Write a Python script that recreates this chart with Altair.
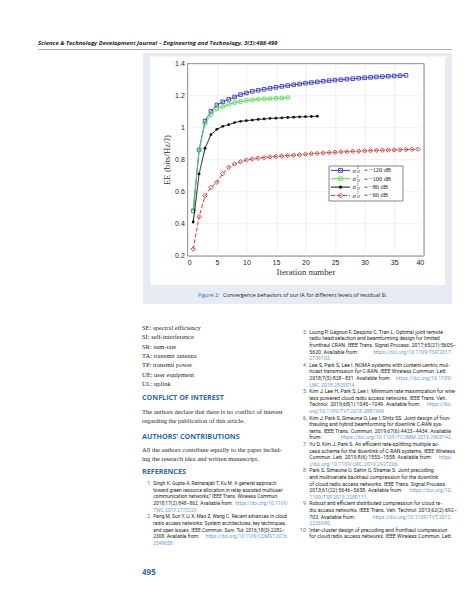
import altair as alt
import pandas as pd

# ---------------- chart values ----------------
iters_120 = list(range(1, 38))
ee_120 = [0.48, 0.86, 1.04, 1.10, 1.14, 1.16, 1.175, 1.19, 1.205, 1.215,
          1.225, 1.232, 1.238, 1.244, 1.25, 1.256, 1.261, 1.266, 1.271, 1.276,
          1.28, 1.284, 1.288, 1.292, 1.295, 1.298, 1.301, 1.304, 1.307, 1.31,
          1.312, 1.315, 1.317, 1.319, 1.321, 1.323, 1.325]
iters_100 = list(range(1, 18))
ee_100 = [0.48, 0.86, 1.025, 1.08, 1.115, 1.13, 1.145, 1.155, 1.162, 1.168,
          1.172, 1.175, 1.178, 1.18, 1.182, 1.184, 1.186]
iters_80 = list(range(1, 23))
ee_80 = [0.41, 0.71, 0.87, 0.955, 0.988, 1.007, 1.017, 1.03, 1.038, 1.042,
         1.046, 1.05, 1.053, 1.056, 1.058, 1.06, 1.062, 1.064, 1.066, 1.067,
         1.068, 1.07]
iters_60 = list(range(1, 40))
ee_60 = [0.241, 0.443, 0.574, 0.626, 0.658, 0.712, 0.751, 0.772, 0.786, 0.797,
         0.803, 0.808, 0.812, 0.816, 0.819, 0.822, 0.825, 0.827, 0.829, 0.833,
         0.836, 0.838, 0.841, 0.843, 0.845, 0.847, 0.849, 0.851, 0.852, 0.854,
         0.855, 0.857, 0.858, 0.859, 0.86, 0.861, 0.862, 0.863, 0.864]

x_ticks = [0, 5, 10, 15, 20, 25, 30, 35, 40]
y_ticks = [0.2, 0.4, 0.6, 0.8, 1.0, 1.2, 1.4]
x_title = "Iteration number"
y_title = "EE (bits/Hz/J)"

legend_values = ["= −120 dB", "= −100 dB", "= −80 dB", "= −60 dB"]
series_colors = ["#3a3ad0", "#3fe03f", "#111111", "#d93a3a"]
series_shapes = ["square", "circle", "circle", "diamond"]
series_filled = [False, False, True, False]
series_sizes = [13, 15, 8, 20]
series_dash = [[1, 0], [1, 0], [1, 0], [4, 2]]

# ---------------- page texts ----------------
header_text = "Science & Technology Development Journal – Engineering and Technology, 3(3):488-499"
caption_label = "Figure 2:"
caption_text = "Convergence behaviors of our IA for different levels of residual SI."
abbrev_lines = ["SE: spectral efficiency", "SI: self-interference", "SR: sum-rate",
                "TA: transmit antenna", "TP: transmit power", "UE: user equipment",
                "UL: uplink"]
heading_coi = "CONFLICT OF INTEREST"
coi_lines = ["The authors declare that there is no conflict of interest",
             "regarding the publication of this article."]
heading_ac = "AUTHORS’ CONTRIBUTIONS"
ac_lines = ["All the authors contribute equally to the paper includ-",
            "ing the research idea and written manuscript."]
heading_ref = "REFERENCES"
page_number = "495"

refs_left = [
    ("1.", [("Singh K, Gupta A, Ratnarajah T, Ku M.  A general approach", ""),
            ("toward green resource allocation in relay-assisted multiuser", ""),
            ("communication networks,” IEEE Trans. Wireless Commun.", ""),
            ("2018;17(2):848–862. Available from:", "https://doi.org/10.1109/"),
            ("", "TWC.2017.2772229.")]),
    ("2.", [("Peng M, Sun Y, Li X, Mao Z, Wang C. Recent advances in cloud", ""),
            ("radio access networks: System architectures, key techniques,", ""),
            ("and open issues. IEEE Commun. Surv. Tut. 2016;18(3):2282–", ""),
            ("2308. Available from:", "https://doi.org/10.1109/COMST.2016."),
            ("", "2548658.")]),
]
refs_right = [
    ("3.", [("Luong P, Gagnon F, Despins C, Tran L.  Optimal joint remote", ""),
            ("radio head selection and beamforming design for limited", ""),
            ("fronthaul CRAN. IEEE Trans. Signal Process. 2017;65(21):5605–", ""),
            ("5620.     Available from:", "https://doi.org/10.1109/TSP.2017."),
            ("", "2739103.")]),
    ("4.", [("Lee S, Park S, Lee I. NOMA systems with content-centric mul-", ""),
            ("ticast transmission for C-RAN. IEEE Wireless Commun. Lett.", ""),
            ("2018;7(5):828–831.  Available from:", "https://doi.org/10.1109/"),
            ("", "LWC.2018.2829514.")]),
    ("5.", [("Kim J, Lee H, Park S, Lee I. Minimum rate maximization for wire-", ""),
            ("less powered cloud radio access networks. IEEE Trans. Veh.", ""),
            ("Technol. 2019;68(1):1045–1049.  Available from:", "https://doi."),
            ("", "org/10.1109/TVT.2018.2881969.")]),
    ("6.", [("Kim J, Park S, Simeone O, Lee I, Shitz SS.  Joint design of fron-", ""),
            ("thauling and hybrid beamforming for downlink C-RAN sys-", ""),
            ("tems. IEEE Trans. Commun. 2019;67(6):4423–4434. Available", ""),
            ("from: ", "https://doi.org/10.1109/TCOMM.2019.2903142.")]),
    ("7.", [("Yu D, Kim J, Park S.  An efficient rate-splitting multiple ac-", ""),
            ("cess scheme for the downlink of C-RAN systems. IEEE Wireless", ""),
            ("Commun. Lett. 2019;8(6):1555–1558.  Available from:", "https:"),
            ("", "//doi.org/10.1109/LWC.2019.2927206.")]),
    ("8.", [("Park S, Simeone O, Sahin O, Shamai S.  Joint precoding", ""),
            ("and multivariate backhaul compression for the downlink", ""),
            ("of cloud radio access networks. IEEE Trans. Signal Process.", ""),
            ("2013;61(22):5646–5658.  Available from:", "https://doi.org/10."),
            ("", "1109/TSP.2013.2280111.")]),
    ("9.", [("Robust and efficient distributed compression for cloud ra-", ""),
            ("dio access networks. IEEE Trans. Veh. Technol. 2013;62(2):692–", ""),
            ("703.     Available from:", "https://doi.org/10.1109/TVT.2012."),
            ("", "2226945.")]),
    ("10.", [("Inter-cluster design of precoding and fronthaul compression", ""),
             ("for cloud radio access networks. IEEE Wireless Commun. Lett.", "")]),
]

# ---------------- layout constants ----------------
OX, OY = 187.3, 63.3          # page position of the plot area
W, H = 236.4, 192.4
PAGE_W, PAGE_H = 458, 596
BLUE = "#2b6cb3"
INK = "#231f20"
LINK = "#6b9bd1"
FRAME = "#e6ebf4"
REF_FONT = "Roboto"
BODY_FONT, BODY_SIZE = "Liberation Serif", 6.5


def rel(X, Y):
    return X - OX, Y - OY


def text_layer(rows, font, size, color, weight="normal", style="normal", align="left"):
    df = pd.DataFrame([{"px": rel(X, Y)[0], "py": rel(X, Y)[1], "t": t} for X, Y, t in rows])
    return alt.Chart(df).mark_text(
        font=font, fontSize=size, color=color, fontWeight=weight, fontStyle=style,
        align=align, baseline="middle"
    ).encode(
        x=alt.X("px:Q", scale=None, axis=None),
        y=alt.Y("py:Q", scale=None, axis=None),
        text="t:N",
    )


def rect_layer(boxes, fill, stroke=None, sw=0):
    df = pd.DataFrame([{"x": rel(a, c)[0], "x2": rel(b, d)[0], "y": rel(a, c)[1], "y2": rel(b, d)[1]}
                       for a, b, c, d in boxes])
    kw = dict(fill=fill)
    if stroke:
        kw.update(stroke=stroke, strokeWidth=sw)
    return alt.Chart(df).mark_rect(**kw).encode(
        x=alt.X("x:Q", scale=None, axis=None), x2="x2:Q",
        y=alt.Y("y:Q", scale=None, axis=None), y2="y2:Q",
    )


layers = []

# figure frame (light blue border around a white panel)
OUT = (143, 452, 53, 304)
INN = (150, 445, 56.5, 285)
layers.append(rect_layer([
    (OUT[0], OUT[1], OUT[2], INN[2]),
    (OUT[0], OUT[1], INN[3], OUT[3]),
    (OUT[0], INN[0], INN[2], INN[3]),
    (INN[1], OUT[1], INN[2], INN[3]),
], FRAME))

# data series
xs_all = [iters_120, iters_100, iters_80, iters_60]
ys_all = [ee_120, ee_100, ee_80, ee_60]
for i in range(4):
    df = pd.DataFrame({"iter": xs_all[i], "ee": ys_all[i]})
    if i == 0:
        xenc = alt.X("iter:Q", scale=alt.Scale(domain=[0, 40], nice=False, zero=False),
                     axis=alt.Axis(values=x_ticks, title=x_title, grid=True, ticks=False, domain=False,
                                   gridColor="#e4e4e4", gridWidth=0.6,
                                   labelFont="Liberation Sans", labelFontSize=7, labelColor="#262626",
                                   labelPadding=3, titleFont="Liberation Serif", titleFontSize=8.8,
                                   titleFontWeight="normal", titleColor="#333333", titlePadding=2))
        yenc = alt.Y("ee:Q", scale=alt.Scale(domain=[0.2, 1.4], nice=False, zero=False),
                     axis=alt.Axis(values=y_ticks, format="~g", title=y_title, grid=True, ticks=False,
                                   domain=False, gridColor="#e4e4e4", gridWidth=0.6,
                                   labelFont="Liberation Sans", labelFontSize=7, labelColor="#262626",
                                   labelPadding=3, titleFont="Liberation Serif", titleFontSize=8.8,
                                   titleFontWeight="normal", titleColor="#333333", titlePadding=3))
    else:
        xenc = alt.X("iter:Q", scale=alt.Scale(domain=[0, 40], nice=False, zero=False), axis=None)
        yenc = alt.Y("ee:Q", scale=alt.Scale(domain=[0.2, 1.4], nice=False, zero=False), axis=None)
    base = alt.Chart(df).encode(x=xenc, y=yenc)
    layers.append(base.mark_line(color=series_colors[i], strokeWidth=1,
                                 strokeDash=series_dash[i]))
    yenc2 = alt.Y("ee:Q", scale=alt.Scale(domain=[0.2, 1.4], nice=False, zero=False), axis=None)
    xenc2 = alt.X("iter:Q", scale=alt.Scale(domain=[0, 40], nice=False, zero=False), axis=None)
    layers.append(alt.Chart(df).mark_point(
        shape=series_shapes[i], filled=series_filled[i], size=series_sizes[i],
        color=series_colors[i], strokeWidth=0.9, opacity=1
    ).encode(x=xenc2, y=yenc2))

# legend
LEG = (329, 403, 166, 201)
layers.append(rect_layer([LEG], "white", "#333333", 0.6))
row_y = [LEG[2] + 4.4 + k * 8.35 for k in range(4)]
for i in range(4):
    ldf = pd.DataFrame([{"px": rel(331, row_y[i])[0], "px2": rel(350, row_y[i])[0],
                         "py": rel(331, row_y[i])[1], "mx": rel(340.5, row_y[i])[0]}])
    layers.append(alt.Chart(ldf).mark_rule(color=series_colors[i], strokeWidth=1,
                                           strokeDash=series_dash[i]).encode(
        x=alt.X("px:Q", scale=None, axis=None), x2="px2:Q",
        y=alt.Y("py:Q", scale=None, axis=None)))
    layers.append(alt.Chart(ldf).mark_point(shape=series_shapes[i], filled=series_filled[i],
                                            size=series_sizes[i] + 3, color=series_colors[i],
                                            strokeWidth=0.9, opacity=1).encode(
        x=alt.X("mx:Q", scale=None, axis=None), y=alt.Y("py:Q", scale=None, axis=None)))
layers.append(text_layer([(352.5, y + 0.3, "σ") for y in row_y], "Liberation Serif", 6.6, "#222222",
                         style="italic"))
layers.append(text_layer([(356.8, y - 2.2, "2") for y in row_y], "Liberation Serif", 4.0, "#222222"))
layers.append(text_layer([(356.8, y + 2.0, "SI") for y in row_y], "Liberation Serif", 3.8, "#222222",
                         style="italic"))
layers.append(text_layer([(364, row_y[i], legend_values[i]) for i in range(4)], "Liberation Serif", 6.3,
                         "#222222"))

# header and rule
layers.append(text_layer([(38, 42.5, header_text)], "Open Sans", 5.9, INK, weight="bold", style="italic"))
rdf = pd.DataFrame([{"px": rel(38, 49.5)[0], "px2": rel(452, 49.5)[0], "py": rel(38, 49.5)[1]}])
layers.append(alt.Chart(rdf).mark_rule(color="#7a7a7a", strokeWidth=0.6).encode(
    x=alt.X("px:Q", scale=None, axis=None), x2="px2:Q", y=alt.Y("py:Q", scale=None, axis=None)))

# caption
layers.append(text_layer([(198, 295, caption_label)], "Open Sans", 5.4, BLUE))
layers.append(text_layer([(223, 295, caption_text)], "Open Sans", 5.4, INK))

# left column body
COL_L = 142
layers.append(text_layer([(COL_L, 328 + k * 9.35, t) for k, t in enumerate(abbrev_lines)],
                         BODY_FONT, BODY_SIZE, INK))
layers.append(text_layer([(COL_L, 398.3, heading_coi), (COL_L, 437.3, heading_ac), (COL_L, 471.7, heading_ref)],
                         "Open Sans", 7.2, BLUE, weight="bold"))
layers.append(text_layer([(COL_L, 411.7 + k * 9.35, t) for k, t in enumerate(coi_lines)] +
                         [(COL_L, 450 + k * 9.35, t) for k, t in enumerate(ac_lines)],
                         BODY_FONT, BODY_SIZE, INK))
layers.append(text_layer([(COL_L, 572.5, page_number)], "Open Sans", 8.0, BLUE, weight="bold"))


# references
def ref_rows(refs, txt_x, right_x, y0, dy):
    nums, plain, link_l, link_r = [], [], [], []
    k = 0
    for num, lines in refs:
        nums.append((txt_x - 2, y0 + k * dy, num))
        for p, l in lines:
            y = y0 + k * dy
            if p:
                plain.append((txt_x, y, p))
                if l:
                    link_r.append((right_x, y, l))
            elif l:
                link_l.append((txt_x, y, l))
            k += 1
    return nums, plain, link_l, link_r


for refs, tx, rx, y0, dy, fs in [(refs_left, 153.3, 288, 484, 6.65, 4.9),
                                 (refs_right, 309.3, 452, 331.8, 6.6, 5.2)]:
    nums, plain, link_l, link_r = ref_rows(refs, tx, rx, y0, dy)
    layers.append(text_layer(nums, REF_FONT, fs, "#666666", align="right"))
    layers.append(text_layer(plain, REF_FONT, fs, INK))
    if link_l:
        layers.append(text_layer(link_l, REF_FONT, fs, LINK))
    if link_r:
        layers.append(text_layer(link_r, REF_FONT, fs, LINK, align="right"))

chart = alt.layer(*layers).resolve_scale(x="independent", y="independent").properties(
    width=W, height=H,
    padding={"left": OX - 8, "top": OY - 8, "right": PAGE_W - (OX - 8) - W, "bottom": PAGE_H - (OY - 8) - H},
    autosize=alt.AutoSizeParams(type="none"),
    background="white",
).configure_view(stroke="#333333", strokeWidth=0.8)

chart.save("out.html", embed_options={"renderer": "svg", "actions": False})
